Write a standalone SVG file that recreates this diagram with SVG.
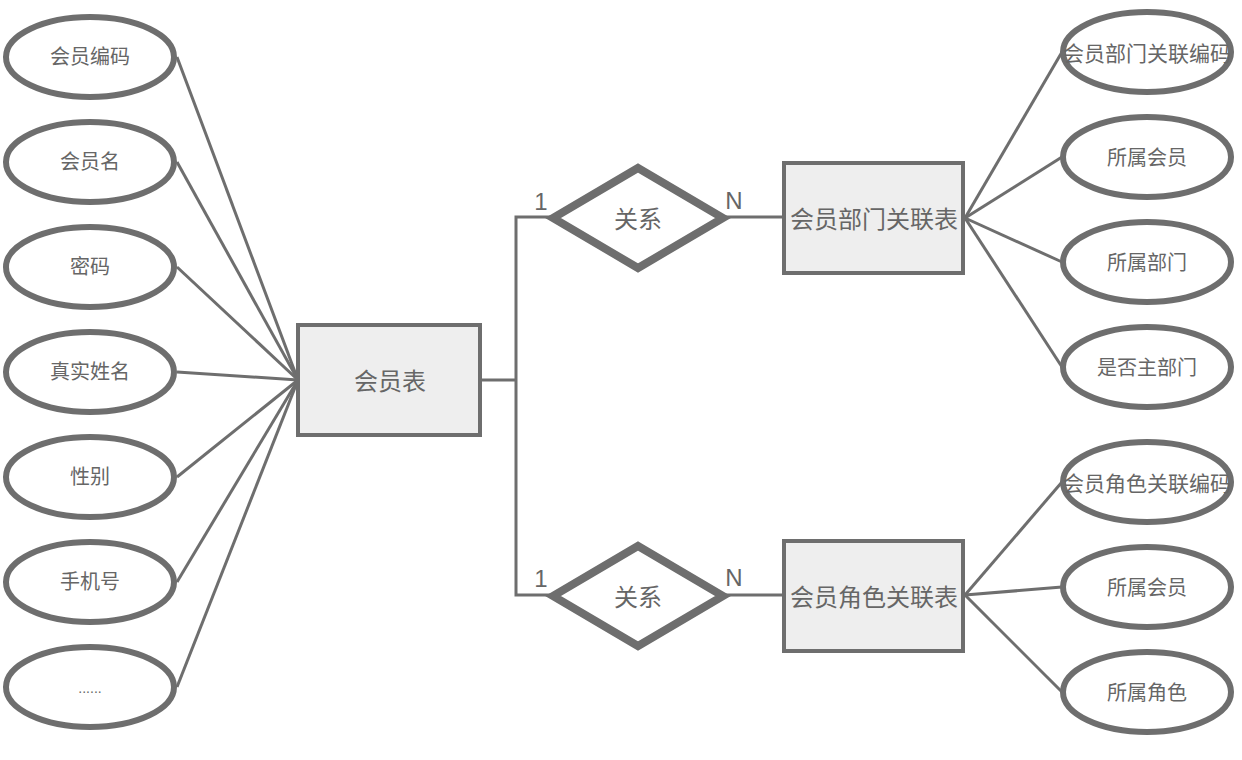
<svg xmlns="http://www.w3.org/2000/svg" width="1242" height="760" viewBox="0 0 1242 760">
<style>
.ell{fill:#fff;stroke:#6e6e6e;stroke-width:6}
.ent{fill:#eeeeee;stroke:#6e6e6e;stroke-width:4}
.rel{fill:#fff;stroke:#6e6e6e;stroke-width:8;stroke-linejoin:miter}
.ln{fill:none;stroke:#6e6e6e;stroke-width:3}
.t{font-family:"Liberation Sans","Noto Sans CJK SC",sans-serif;fill:#666;text-anchor:middle;dominant-baseline:central}
.s{font-size:20px}
.b{font-size:24px}
.c{font-family:"Liberation Sans",sans-serif;font-size:24px;fill:#666}
</style>
<rect width="1242" height="760" fill="#fff"/>
<g id="connectors">
<line class="ln" x1="177" y1="57" x2="298" y2="380"/>
<line class="ln" x1="177" y1="162" x2="298" y2="380"/>
<line class="ln" x1="177" y1="267" x2="298" y2="380"/>
<line class="ln" x1="177" y1="372" x2="298" y2="380"/>
<line class="ln" x1="177" y1="477" x2="298" y2="380"/>
<line class="ln" x1="177" y1="582" x2="298" y2="380"/>
<line class="ln" x1="177" y1="687" x2="298" y2="380"/>
<polyline class="ln" points="480,380 516,380"/>
<polyline class="ln" points="553,217 516,217 516,595 553,595"/>
<line class="ln" x1="724" y1="217" x2="784" y2="217"/>
<line class="ln" x1="724" y1="595" x2="784" y2="595"/>
<line class="ln" x1="965" y1="218" x2="1062" y2="52"/>
<line class="ln" x1="965" y1="218" x2="1062" y2="157"/>
<line class="ln" x1="965" y1="218" x2="1062" y2="262"/>
<line class="ln" x1="965" y1="218" x2="1062" y2="367"/>
<line class="ln" x1="965" y1="595" x2="1062" y2="482"/>
<line class="ln" x1="965" y1="595" x2="1062" y2="587"/>
<line class="ln" x1="965" y1="595" x2="1062" y2="692"/>
<text class="c" x="541" y="210" text-anchor="middle">1</text>
<text class="c" x="734" y="209" text-anchor="middle">N</text>
<text class="c" x="541" y="587" text-anchor="middle">1</text>
<text class="c" x="734" y="586" text-anchor="middle">N</text>
</g>
<g id="a1"><ellipse class="ell" cx="90" cy="57" rx="84" ry="40"/><text class="t s" x="90" y="57">会员编码</text></g>
<g id="a2"><ellipse class="ell" cx="90" cy="162" rx="84" ry="40"/><text class="t s" x="90" y="162">会员名</text></g>
<g id="a3"><ellipse class="ell" cx="90" cy="267" rx="84" ry="40"/><text class="t s" x="90" y="267">密码</text></g>
<g id="a4"><ellipse class="ell" cx="90" cy="372" rx="84" ry="40"/><text class="t s" x="90" y="372">真实姓名</text></g>
<g id="a5"><ellipse class="ell" cx="90" cy="477" rx="84" ry="40"/><text class="t s" x="90" y="477">性别</text></g>
<g id="a6"><ellipse class="ell" cx="90" cy="582" rx="84" ry="40"/><text class="t s" x="90" y="582">手机号</text></g>
<g id="a7"><ellipse class="ell" cx="90" cy="687" rx="84" ry="40"/><text class="t" x="90" y="688" font-size="14">......</text></g>
<g id="member"><rect class="ent" x="298" y="325" width="182" height="110"/><text class="t b" x="390" y="381">会员表</text></g>
<g id="rel1"><polygon class="rel" points="638,168 723,218 638,268 553,218"/><text class="t b" x="638" y="219">关系</text></g>
<g id="rel2"><polygon class="rel" points="638,546 723,596 638,646 553,596"/><text class="t b" x="638" y="597">关系</text></g>
<g id="dept"><rect class="ent" x="784" y="163" width="179" height="110"/><text class="t b" x="874" y="219">会员部门关联表</text></g>
<g id="role"><rect class="ent" x="784" y="541" width="179" height="110"/><text class="t b" x="874" y="597">会员角色关联表</text></g>
<g id="d1"><ellipse class="ell" cx="1147" cy="52" rx="84" ry="40"/><text class="t" font-size="21" x="1147" y="53">会员部门关联编码</text></g>
<g id="d2"><ellipse class="ell" cx="1147" cy="157" rx="84" ry="40"/><text class="t s" x="1147" y="158">所属会员</text></g>
<g id="d3"><ellipse class="ell" cx="1147" cy="262" rx="84" ry="40"/><text class="t s" x="1147" y="263">所属部门</text></g>
<g id="d4"><ellipse class="ell" cx="1147" cy="367" rx="84" ry="40"/><text class="t s" x="1147" y="368">是否主部门</text></g>
<g id="r1"><ellipse class="ell" cx="1147" cy="482" rx="84" ry="40"/><text class="t" font-size="21" x="1147" y="483">会员角色关联编码</text></g>
<g id="r2"><ellipse class="ell" cx="1147" cy="587" rx="84" ry="40"/><text class="t s" x="1147" y="588">所属会员</text></g>
<g id="r3"><ellipse class="ell" cx="1147" cy="692" rx="84" ry="40"/><text class="t s" x="1147" y="693">所属角色</text></g>
</svg>
